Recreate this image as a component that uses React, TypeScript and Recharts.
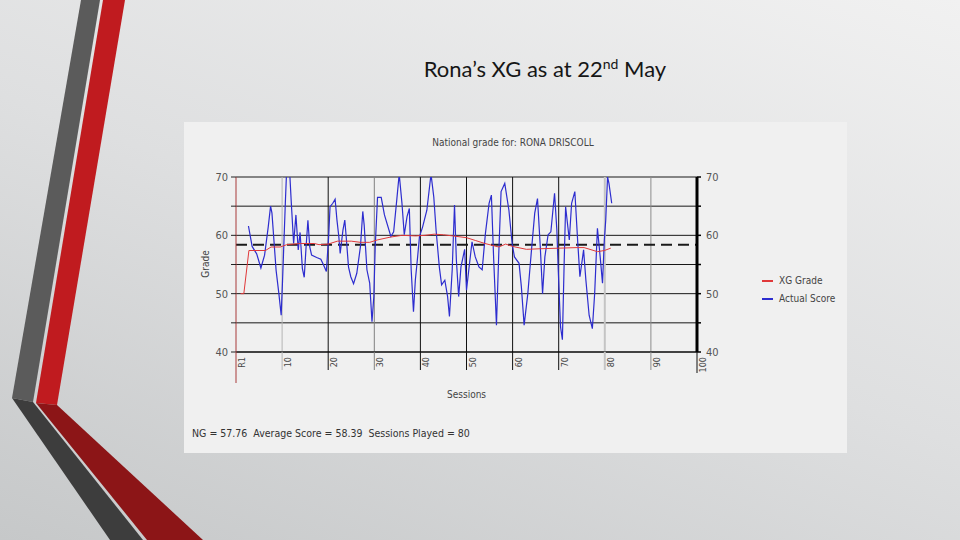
import React from "react";
import { CartesianGrid, Line, LineChart, ReferenceLine, XAxis, YAxis } from "recharts";

const scoreSessions = [
  2.7, 3.5, 4.5, 5.4, 6.2, 7.0, 7.5, 7.8, 8.7, 9.3, 9.8, 10.1, 10.7, 11.0, 11.6, 12.0, 12.5, 13.0, 13.5, 13.9,
  14.4, 14.8, 15.2, 15.6, 16.0, 16.4, 17.5, 18.4, 19.0, 19.6, 20.1, 20.4, 21.0, 21.5, 21.9, 22.3, 22.6, 23.2, 23.6, 23.9,
  24.4, 24.9, 25.5, 26.2, 27.0, 27.5, 27.8, 28.4, 29.0, 29.5, 29.9, 30.2, 30.7, 31.5, 32.2, 33.6, 34.2, 34.9, 35.4, 36.0,
  36.5, 37.1, 37.6, 38.0, 38.5, 38.9, 39.4, 39.8, 40.5, 41.4, 42.3, 42.9, 43.4, 44.1, 44.6, 45.3, 45.9, 46.3, 46.9, 47.4,
  47.8, 48.3, 48.8, 49.6, 50.0, 50.5, 51.2, 51.9, 52.7, 53.4, 54.1, 54.9, 55.4, 55.9, 56.5, 57.0, 57.5, 58.3, 59.2, 59.9,
  60.4, 61.4, 61.9, 62.5, 63.3, 64.1, 64.8, 65.4, 66.0, 66.5, 67.0, 67.7, 68.3, 69.1, 69.6, 69.9, 70.4, 70.8, 71.2, 71.5,
  72.3, 72.8, 73.5, 74.1, 74.6, 75.4, 75.9, 76.6, 77.3, 77.8, 78.4, 79.0, 79.5, 79.9, 80.2, 80.6, 80.9, 81.5
];
const scoreValues = [
  61.6, 58.1, 56.8, 54.4, 56.6, 61.5, 65.0, 63.8, 54.0, 50.0, 46.3, 52.3, 65.5, 71.5, 71.5, 65.5, 58.6, 63.5, 57.5, 60.5,
  54.3, 52.8, 58.0, 62.6, 58.0, 56.6, 56.2, 55.9, 54.9, 53.8, 59.8, 64.9, 65.5, 66.2, 62.6, 59.8, 56.9, 60.9, 62.6, 59.8,
  54.6, 52.9, 51.7, 53.5, 58.1, 64.1, 61.8, 54.1, 51.8, 45.2, 49.5, 58.1, 66.5, 66.5, 63.5, 59.8, 60.6, 66.3, 70.5, 65.5,
  60.1, 63.2, 64.6, 54.1, 46.9, 52.3, 56.3, 59.8, 61.5, 64.3, 70.5, 66.6, 60.9, 54.6, 51.5, 52.3, 49.5, 46.1, 54.1, 65.2,
  55.8, 49.5, 54.6, 57.6, 50.6, 54.1, 58.9, 56.3, 54.6, 54.1, 60.3, 65.5, 66.9, 55.8, 44.6, 56.9, 67.5, 68.9, 64.3, 58.6,
  56.3, 55.2, 51.2, 44.6, 50.0, 57.5, 63.8, 66.3, 58.1, 50.0, 56.3, 60.1, 60.6, 67.2, 60.9, 54.1, 44.3, 42.1, 55.8, 64.9,
  59.2, 65.5, 67.5, 59.2, 52.9, 57.5, 52.3, 46.3, 44.0, 50.0, 61.2, 56.3, 51.8, 59.2, 62.6, 70.0, 68.9, 65.5
];

// XG grade
const gradeSessions = [1, 1.7, 2.8, 6.4, 7.6, 9.6, 11, 14, 17, 18, 20, 22, 25, 27, 29, 30.6, 33.5, 36, 39, 41, 43, 45, 47, 50, 52, 54, 56, 57, 58.5, 60, 63, 66, 70, 74, 75.5, 78.4, 79.9, 81.3];
const gradeValues = [50, 50, 57.4, 57.4, 58.0, 58.0, 58.4, 58.6, 58.6, 58.4, 58.5, 59.0, 59.0, 58.8, 58.8, 59.2, 59.7, 60.0, 59.9, 60.0, 60.2, 60.1, 59.9, 59.6, 59.1, 58.6, 58.2, 58.0, 58.5, 58.1, 57.6, 57.7, 57.8, 57.9, 57.9, 57.2, 57.4, 57.8];

const averageScore = 58.39;
const xTicks = [0, 10, 20, 30, 40, 50, 60, 70, 80, 90, 100];
const yTicks = [40, 45, 50, 55, 60, 65, 70];
const sessionLines = [10, 20, 30, 40, 50, 60, 70, 80, 90];
const sessionLineColor: Record<number, string> = { 10: "#b4b4b4", 30: "#808080", 80: "#c4c4c4", 90: "#8c8c8c" };

const scoreData = scoreSessions.map((s, i) => ({ s, v: scoreValues[i] }));
const gradeData = gradeSessions.map((s, i) => ({ s, v: gradeValues[i] }));

const chartFont = "'DejaVu Sans Condensed', 'DejaVu Sans', sans-serif";

function SessionTick(props: any) {
  const { x, y, payload } = props;
  const v = payload.value as number;
  const color = v === 0 ? "#a83a3a" : sessionLineColor[v] ?? "#111";
  const len = v === 0 ? 31 : v === 100 ? 21 : 18;
  return (
    <g>
      <line x1={x} x2={x} y1={y} y2={y + len} stroke={color} strokeWidth={v === 80 ? 2 : 1} />
      <text
        transform={`translate(${x + 9},${y + 5}) rotate(-90)`}
        textAnchor="end"
        fontSize={9}
        fill="#444"
        fontFamily={chartFont}
      >
        {v === 0 ? "R1" : v}
      </text>
    </g>
  );
}

const yLabel = (v: number) => (v % 10 === 0 ? String(v) : "");

export default function App() {
  return (
    <div
      style={{
        position: "absolute",
        left: 0,
        top: 0,
        width: 960,
        height: 540,
        overflow: "hidden",
        background: "linear-gradient(200deg, #f1f1f1 0%, #dedfe0 50%, #c6c8c9 100%)"
      }}
    >
      <svg width={960} height={540} style={{ position: "absolute", left: 0, top: 0 }}>
        <polygon points="81,0 100,0 33,402 12,398" fill="#5b5b5b" />
        <polygon points="12,398 33,402 143,540 110,540" fill="#3d3d3d" />
        <polygon points="103,0 125,0 57,405 36,403" fill="#c01b1f" />
        <polygon points="36,403 57,405 203,540 147,540" fill="#8c1517" />
      </svg>

      <div
        style={{
          position: "absolute",
          left: 0,
          width: 1090,
          top: 55,
          textAlign: "center",
          fontFamily: "Lato, 'Open Sans', sans-serif",
          fontSize: 22,
          color: "#161616"
        }}
      >
        Rona’s XG as at 22<sup style={{ fontSize: 14, verticalAlign: 8, lineHeight: 0 }}>nd</sup> May
      </div>

      <div
        style={{
          position: "absolute",
          left: 184,
          top: 122,
          width: 663,
          height: 331,
          background: "#f0f0f0",
          fontFamily: chartFont,
          color: "#444"
        }}
      >
        <div style={{ position: "absolute", left: 0, width: 658, top: 15, textAlign: "center", fontSize: 10, color: "#444" }}>
          National grade for: RONA DRISCOLL
        </div>

        <LineChart width={663} height={331} data={scoreData} margin={{ top: 55, right: 120, bottom: 61, left: 0 }}>
          <CartesianGrid vertical={false} stroke="#000" strokeOpacity={0.9} />
          {sessionLines.map((v) => (
            <ReferenceLine key={v} x={v} stroke={sessionLineColor[v] ?? "#111"} strokeWidth={v === 80 ? 2 : 1} />
          ))}
          <XAxis
            dataKey="s"
            type="number"
            domain={[0, 100]}
            ticks={xTicks}
            allowDataOverflow
            height={40}
            tickSize={0}
            tickMargin={0}
            tickLine={false}
            axisLine={{ stroke: "#000" }}
            tick={<SessionTick />}
          />
          <YAxis
            domain={[40, 70]}
            ticks={yTicks}
            allowDataOverflow
            width={52}
            tickFormatter={yLabel}
            tickSize={5}
            tickMargin={3}
            tickLine={{ stroke: "#222" }}
            axisLine={{ stroke: "#a83a3a" }}
            tick={{ fill: "#555", fontSize: 11, fontFamily: chartFont }}
          />
          <YAxis
            yAxisId="r"
            orientation="right"
            domain={[40, 70]}
            ticks={yTicks}
            allowDataOverflow
            width={30}
            tickFormatter={yLabel}
            tickSize={4}
            tickMargin={5}
            tickLine={{ stroke: "#000", strokeWidth: 1.5 }}
            axisLine={{ stroke: "#000", strokeWidth: 3 }}
            tick={{ fill: "#555", fontSize: 11, fontFamily: chartFont }}
          />
          <ReferenceLine y={averageScore} stroke="#1a1a1a" strokeWidth={2} strokeDasharray="11 6" />
          <Line
            data={scoreData}
            dataKey="v"
            type="linear"
            stroke="#2d2dcf"
            strokeWidth={1.2}
            dot={false}
            isAnimationActive={false}
          />
          <Line
            data={gradeData}
            dataKey="v"
            type="linear"
            stroke="#e0383a"
            strokeWidth={1}
            dot={false}
            isAnimationActive={false}
          />
        </LineChart>

        <div
          style={{
            position: "absolute",
            left: 21,
            top: 142,
            transform: "translate(-50%, -50%) rotate(-90deg)",
            fontSize: 10,
            color: "#444"
          }}
        >
          Grade
        </div>
        <div style={{ position: "absolute", left: 263, top: 267, fontSize: 10, color: "#444" }}>Sessions</div>

        <div style={{ position: "absolute", left: 578, top: 150, fontSize: 10, lineHeight: "18px", color: "#444" }}>
          <div>
            <span style={{ display: "inline-block", width: 11, height: 1.5, background: "#e0383a", verticalAlign: "middle", marginRight: 6 }} />
            XG Grade
          </div>
          <div>
            <span style={{ display: "inline-block", width: 11, height: 1.5, background: "#2d2dcf", verticalAlign: "middle", marginRight: 6 }} />
            Actual Score
          </div>
        </div>

        <div style={{ position: "absolute", left: 8, top: 305, fontSize: 10.5, color: "#333", whiteSpace: "pre" }}>
          {"NG = 57.76  Average Score = 58.39  Sessions Played = 80"}
        </div>
      </div>
    </div>
  );
}
